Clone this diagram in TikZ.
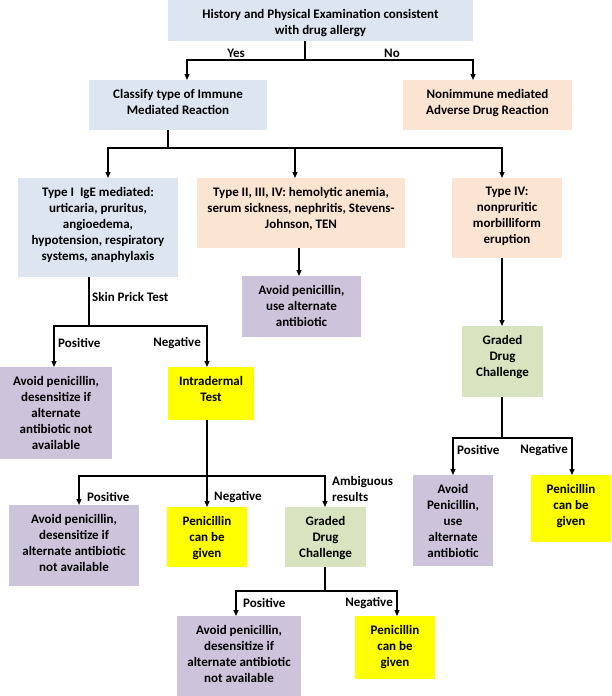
\documentclass[tikz,border=0pt]{standalone}
\usepackage{fontspec}
\setmainfont{Carlito}
\usetikzlibrary{arrows.meta}
\definecolor{cblue}{HTML}{DCE5F0}
\definecolor{cpeach}{HTML}{FCE4D3}
\definecolor{cpurple}{HTML}{CDC3DB}
\definecolor{cgreen}{HTML}{D8E4BF}
\definecolor{cyellow}{HTML}{FFFF00}
\tikzset{
  box/.style={draw=none, inner sep=0pt, outer sep=0pt, anchor=north west,
    font=\fontsize{13}{16}\selectfont\bfseries},
  lbl/.style={inner sep=0pt, font=\fontsize{13}{16}\selectfont\bfseries},
  conn/.style={line width=1.3pt, black},
  arr/.style={conn, -{Triangle[length=6pt,width=5pt]}}
}
\newcommand\mkbox[7]{%
  \pgfmathsetmacro\bw{#4-#2}\pgfmathsetmacro\bh{#5-#3}%
  \node[box,fill=#6] (#1) at (#2,#3)
    {\begin{minipage}[t][\bh pt][t]{\bw pt}\centering\vspace*{9.5pt}#7\end{minipage}};}
\begin{document}
\begin{tikzpicture}[x=1pt,y=-1pt]
\fill[white] (0,0) rectangle (611,696);
\useasboundingbox (0,0) rectangle (611,696);

% boxes
\mkbox{top}{168}{0}{473}{41}{cblue}{History and Physical Examination consistent\\with drug allergy}
\mkbox{classify}{89}{80}{267}{130}{cblue}{Classify type of Immune\\Mediated Reaction}
\mkbox{nonimm}{403}{80}{572}{130}{cpeach}{Nonimmune mediated\\Adverse Drug Reaction}
\mkbox{typeI}{18}{178}{178}{277}{cblue}{Type I\ \ IgE mediated:\\urticaria, pruritus,\\angioedema,\\hypotension, respiratory\\systems, anaphylaxis}
\mkbox{typeII}{197}{178}{405}{248}{cpeach}{Type II, III, IV: hemolytic anemia,\\serum sickness, nephritis, Stevens-\\Johnson, TEN}
\mkbox{typeIV}{452}{178}{562}{258}{cpeach}{Type IV:\\nonpruritic\\morbilliform\\eruption}
\mkbox{avoidmid}{242}{276}{361}{337}{cpurple}{Avoid penicillin,\\use alternate\\antibiotic}
\mkbox{gradedR}{462}{326}{543}{397}{cgreen}{Graded\\Drug\\Challenge}
\mkbox{avoidL}{0}{367}{112}{459}{cpurple}{Avoid penicillin,\\desensitize if\\alternate\\antibiotic not\\available}
\mkbox{intra}{168}{367}{254}{420}{cyellow}{Intradermal\\Test}
\mkbox{avoidR}{413}{475}{493}{566}{cpurple}{Avoid\\Penicillin,\\use\\alternate\\antibiotic}
\mkbox{penR}{531}{475}{611}{542}{cyellow}{Penicillin\\can be\\given}
\mkbox{avoidBL}{9}{505}{139}{586}{cpurple}{Avoid penicillin,\\desensitize if\\alternate antibiotic\\not available}
\mkbox{penM}{167}{507}{247}{567}{cyellow}{Penicillin\\can be\\given}
\mkbox{gradedM}{285}{507}{366}{567}{cgreen}{Graded\\Drug\\Challenge}
\mkbox{avoidB}{177}{616}{301}{696}{cpurple}{Avoid penicillin,\\desensitize if\\alternate antibiotic\\not available}
\mkbox{penB}{355}{616}{435}{679}{cyellow}{Penicillin\\can be\\given}

% connectors
\coordinate (j0) at (305,60);
\coordinate (cyes) at (187,60);
\coordinate (cno) at (473,60);
\draw[conn] (top.south -| j0) -- (j0);
\draw[arr] (j0) -- (cyes) -- (cyes |- classify.north);
\draw[arr] (j0) -- (cno) -- (cno |- nonimm.north);

\coordinate (j1) at (168,148);
\coordinate (c1a) at (108,148);
\coordinate (c1b) at (295,148);
\coordinate (c1c) at (502,148);
\draw[conn] (classify.south -| j1) -- (j1);
\draw[arr] (j1) -- (c1a) -- (c1a |- typeI.north);
\draw[arr] (c1b) -- (c1b |- typeII.north);
\draw[arr] (j1) -- (c1c) -- (c1c |- typeIV.north);

\coordinate (c2) at (299,0);
\draw[arr] (typeII.south -| c2) -- (avoidmid.north -| c2);
\coordinate (c3) at (502,0);
\draw[arr] (typeIV.south -| c3) -- (gradedR.north -| c3);

\coordinate (j4) at (89,326);
\coordinate (c4a) at (54,326);
\coordinate (c4b) at (207,326);
\draw[conn] (typeI.south -| j4) -- (j4);
\draw[arr] (j4) -- (c4a) -- (c4a |- avoidL.north);
\draw[arr] (j4) -- (c4b) -- (c4b |- intra.north);

\coordinate (j5) at (502,438);
\coordinate (c5a) at (453,438);
\coordinate (c5b) at (572,438);
\draw[conn] (gradedR.south -| j5) -- (j5);
\draw[arr] (j5) -- (c5a) -- (c5a |- avoidR.north);
\draw[arr] (j5) -- (c5b) -- (c5b |- penR.north);

\coordinate (j6) at (207,476);
\coordinate (c6a) at (79,476);
\coordinate (c6c) at (325,476);
\draw[conn] (intra.south -| j6) -- (j6);
\draw[arr] (j6) -- (c6a) -- (c6a |- avoidBL.north);
\draw[arr] (j6) -- (j6 |- penM.north);
\draw[arr] (j6) -- (c6c) -- (c6c |- gradedM.north);

\coordinate (j7) at (325,591);
\coordinate (c7a) at (236,591);
\coordinate (c7b) at (397,591);
\draw[conn] (gradedM.south -| j7) -- (j7);
\draw[arr] (j7) -- (c7a) -- (c7a |- avoidB.north);
\draw[arr] (j7) -- (c7b) -- (c7b |- penB.north);

% labels
\node[lbl] (lyes) at (236,53) {Yes};
\node[lbl] (lno) at (392,53) {No};
\node[lbl,anchor=west] (lskin) at (92,297) {Skin Prick Test};
\node[lbl,anchor=west] (lpos1) at (58,343) {Positive};
\node[lbl,anchor=east] (lneg1) at (201,343) {Negative};
\node[lbl,anchor=west] (lpos2) at (457,450) {Positive};
\node[lbl,anchor=east] (lneg2) at (568,450) {Negative};
\node[lbl,anchor=west] (lpos3) at (87,497) {Positive};
\node[lbl,anchor=west] (lneg3) at (214,497) {Negative};
\node[lbl,anchor=west,align=left] (lamb) at (332,489) {Ambiguous\\results};
\node[lbl,anchor=west] (lpos4) at (243,603) {Positive};
\node[lbl,anchor=east] (lneg4) at (393,603) {Negative};
\end{tikzpicture}
\end{document}
